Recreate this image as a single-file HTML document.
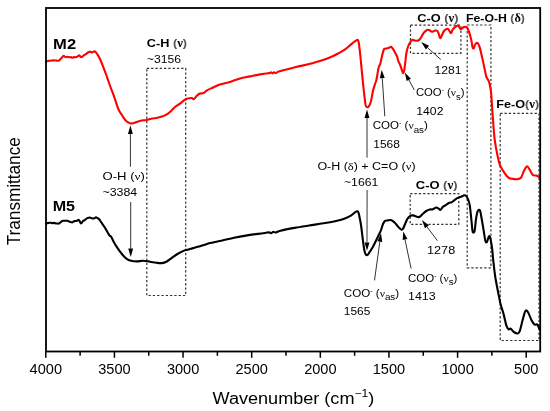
<!DOCTYPE html><html><head><meta charset="utf-8"><style>html,body{margin:0;padding:0;background:#fff;}svg{display:block;}text{font-family:"Liberation Sans", Arial, Helvetica, sans-serif;}</style></head><body>
<svg width="550" height="411" viewBox="0 0 550 411">
<rect width="550" height="411" fill="#fff"/>
<rect x="146.8" y="68.3" width="38.9" height="227.2" fill="none" stroke="#333" stroke-width="1.2" stroke-dasharray="2.3 2.0"/>
<rect x="410.5" y="25.1" width="50.4" height="28.2" fill="none" stroke="#333" stroke-width="1.2" stroke-dasharray="2.3 2.0"/>
<rect x="467.2" y="25.0" width="23.7" height="242.8" fill="none" stroke="#333" stroke-width="1.2" stroke-dasharray="2.3 2.0"/>
<rect x="410.2" y="193.6" width="48.6" height="30.7" fill="none" stroke="#333" stroke-width="1.2" stroke-dasharray="2.3 2.0"/>
<rect x="500.2" y="113.4" width="38.8" height="227.1" fill="none" stroke="#333" stroke-width="1.2" stroke-dasharray="2.3 2.0"/>
<path d="M46.00,61.70 C46.25,61.59 47.00,61.16 47.50,61.01 C48.00,60.86 48.51,60.85 49.00,60.80 C49.49,60.75 49.97,60.74 50.45,60.69 C50.93,60.64 51.33,60.55 51.90,60.50 C52.47,60.45 53.20,60.38 53.85,60.38 C54.50,60.38 55.23,60.45 55.80,60.50 C56.37,60.55 56.77,60.66 57.25,60.69 C57.73,60.73 58.21,60.92 58.70,60.70 C59.19,60.48 59.70,59.85 60.20,59.36 C60.70,58.88 61.13,58.39 61.70,57.80 C62.27,57.21 62.95,55.88 63.60,55.80 C64.25,55.72 65.02,57.13 65.60,57.30 C66.18,57.47 66.45,56.80 67.10,56.80 C67.75,56.80 68.85,57.24 69.50,57.30 C70.15,57.36 70.50,57.08 71.00,57.16 C71.50,57.24 72.01,57.81 72.50,57.80 C72.99,57.79 73.47,57.20 73.95,57.11 C74.43,57.03 74.83,57.38 75.40,57.30 C75.97,57.22 76.70,56.97 77.35,56.65 C78.00,56.34 78.64,55.29 79.30,55.40 C79.96,55.51 80.57,57.30 81.30,57.30 C82.03,57.30 82.88,55.97 83.70,55.40 C84.52,54.83 85.54,54.35 86.20,53.90 C86.86,53.45 87.17,53.02 87.65,52.68 C88.13,52.35 88.61,52.03 89.10,51.90 C89.59,51.77 90.10,51.83 90.60,51.91 C91.10,51.99 91.45,52.49 92.10,52.40 C92.75,52.31 93.85,51.40 94.50,51.40 C95.15,51.40 95.42,51.73 96.00,52.40 C96.58,53.07 97.35,54.33 98.00,55.40 C98.65,56.47 99.07,56.98 99.90,58.80 C100.73,60.62 101.93,63.60 103.00,66.30 C104.07,69.00 105.47,72.72 106.30,75.00 C107.13,77.28 107.30,78.00 108.00,80.00 C108.70,82.00 109.78,85.05 110.50,87.00 C111.22,88.95 111.72,90.13 112.30,91.70 C112.88,93.27 113.42,94.75 114.00,96.40 C114.58,98.05 115.22,99.85 115.80,101.60 C116.38,103.35 116.92,105.33 117.50,106.90 C118.08,108.47 118.62,109.73 119.30,111.00 C119.98,112.27 120.92,113.43 121.60,114.50 C122.28,115.57 122.72,116.42 123.40,117.40 C124.08,118.38 124.82,119.52 125.70,120.40 C126.58,121.28 127.82,122.18 128.70,122.70 C129.58,123.22 130.13,123.45 131.00,123.50 C131.87,123.55 132.43,123.43 133.90,123.00 C135.37,122.57 137.65,121.40 139.80,120.90 C141.95,120.40 145.10,120.32 146.80,120.00 C148.50,119.68 148.47,119.33 150.00,119.00 C151.53,118.67 154.00,118.40 156.00,118.00 C158.00,117.60 160.00,117.33 162.00,116.60 C164.00,115.87 166.50,114.53 168.00,113.60 C169.50,112.67 169.83,112.10 171.00,111.00 C172.17,109.90 173.50,108.23 175.00,107.00 C176.50,105.77 178.33,104.83 180.00,103.60 C181.67,102.37 183.67,100.47 185.00,99.60 C186.33,98.73 186.83,98.67 188.00,98.40 C189.17,98.13 191.07,97.87 192.00,98.00 C192.93,98.13 192.77,99.60 193.60,99.20 C194.43,98.80 195.93,96.53 197.00,95.60 C198.07,94.67 198.90,94.03 200.00,93.60 C201.10,93.17 202.43,93.53 203.60,93.00 C204.77,92.47 205.60,91.23 207.00,90.40 C208.40,89.57 209.83,88.97 212.00,88.00 C214.17,87.03 217.00,85.60 220.00,84.60 C223.00,83.60 226.67,83.03 230.00,82.00 C233.33,80.97 236.67,79.33 240.00,78.40 C243.33,77.47 246.67,77.07 250.00,76.40 C253.33,75.73 256.98,74.93 260.00,74.40 C263.02,73.87 266.52,73.38 268.10,73.20 C269.68,73.02 269.02,73.47 269.50,73.30 C269.98,73.13 270.50,72.18 271.00,72.20 C271.50,72.22 272.00,73.38 272.50,73.40 C273.00,73.42 273.42,72.37 274.00,72.30 C274.58,72.23 275.08,73.18 276.00,73.00 C276.92,72.82 276.18,72.18 279.50,71.20 C282.82,70.22 290.43,68.42 295.90,67.10 C301.37,65.78 306.85,64.80 312.30,63.30 C317.75,61.80 323.97,59.92 328.60,58.10 C333.23,56.28 337.28,53.88 340.10,52.40 C342.92,50.92 343.52,50.67 345.50,49.20 C347.48,47.73 350.25,45.03 352.00,43.60 C353.75,42.17 354.95,41.07 356.00,40.60 C357.05,40.13 357.65,38.98 358.30,40.80 C358.95,42.62 359.32,46.47 359.90,51.50 C360.48,56.53 361.20,64.92 361.80,71.00 C362.40,77.08 362.98,83.17 363.50,88.00 C364.02,92.83 364.55,97.17 364.90,100.00 C365.25,102.83 365.30,103.83 365.60,105.00 C365.90,106.17 366.27,106.67 366.70,107.00 C367.13,107.33 367.72,107.30 368.20,107.00 C368.68,106.70 369.10,106.33 369.60,105.20 C370.10,104.07 370.63,102.60 371.20,100.20 C371.77,97.80 372.37,93.50 373.00,90.80 C373.63,88.10 374.43,85.80 375.00,84.00 C375.57,82.20 375.80,82.70 376.40,80.00 C377.00,77.30 377.97,70.47 378.60,67.80 C379.23,65.13 379.67,65.82 380.20,64.00 C380.73,62.18 381.25,59.18 381.80,56.90 C382.35,54.62 383.03,51.67 383.50,50.30 C383.97,48.93 383.97,49.03 384.60,48.70 C385.23,48.37 386.48,48.48 387.30,48.30 C388.12,48.12 388.87,47.85 389.50,47.60 C390.13,47.35 390.55,46.62 391.10,46.80 C391.65,46.98 392.15,47.75 392.80,48.70 C393.45,49.65 394.27,51.13 395.00,52.50 C395.73,53.87 396.65,55.48 397.20,56.90 C397.75,58.32 397.77,59.55 398.30,61.00 C398.83,62.45 399.77,64.00 400.40,65.60 C401.03,67.20 401.63,69.32 402.10,70.60 C402.57,71.88 402.83,73.40 403.20,73.30 C403.57,73.20 403.93,72.00 404.30,70.00 C404.67,68.00 405.03,64.22 405.40,61.30 C405.77,58.38 406.05,54.97 406.50,52.50 C406.95,50.03 407.57,48.05 408.10,46.50 C408.63,44.95 409.15,44.20 409.70,43.20 C410.25,42.20 410.85,41.05 411.40,40.50 C411.95,39.95 412.37,39.87 413.00,39.90 C413.63,39.93 414.37,40.60 415.20,40.70 C416.03,40.80 417.27,40.72 418.00,40.50 C418.73,40.28 419.07,39.95 419.60,39.40 C420.13,38.85 420.47,38.35 421.20,37.20 C421.93,36.05 423.03,33.70 424.00,32.50 C424.97,31.30 426.17,30.42 427.00,30.00 C427.83,29.58 428.17,29.70 429.00,30.00 C429.83,30.30 431.17,31.63 432.00,31.80 C432.83,31.97 433.25,31.22 434.00,31.00 C434.75,30.78 435.83,30.33 436.50,30.50 C437.17,30.67 437.50,31.00 438.00,32.00 C438.50,33.00 439.08,35.50 439.50,36.50 C439.92,37.50 440.08,38.25 440.50,38.00 C440.92,37.75 441.42,36.17 442.00,35.00 C442.58,33.83 443.25,32.00 444.00,31.00 C444.75,30.00 445.75,29.30 446.50,29.00 C447.25,28.70 447.92,28.70 448.50,29.20 C449.08,29.70 449.55,31.37 450.00,32.00 C450.45,32.63 450.78,33.33 451.20,33.00 C451.62,32.67 451.95,30.92 452.50,30.00 C453.05,29.08 453.83,28.17 454.50,27.50 C455.17,26.83 455.92,26.33 456.50,26.00 C457.08,25.67 457.50,25.25 458.00,25.50 C458.50,25.75 459.00,26.88 459.50,27.50 C460.00,28.12 460.42,29.20 461.00,29.20 C461.58,29.20 462.33,27.90 463.00,27.50 C463.67,27.10 464.33,26.80 465.00,26.80 C465.67,26.80 466.42,26.88 467.00,27.50 C467.58,28.12 468.00,29.25 468.50,30.50 C469.00,31.75 469.50,33.25 470.00,35.00 C470.50,36.75 471.08,39.00 471.50,41.00 C471.92,43.00 472.13,45.77 472.50,47.00 C472.87,48.23 473.25,48.82 473.70,48.40 C474.15,47.98 474.67,45.43 475.20,44.50 C475.73,43.57 476.38,42.88 476.90,42.80 C477.42,42.72 477.78,43.07 478.30,44.00 C478.82,44.93 479.32,45.95 480.00,48.40 C480.68,50.85 481.60,55.13 482.40,58.70 C483.20,62.27 484.13,66.77 484.80,69.80 C485.47,72.83 485.75,75.05 486.40,76.90 C487.05,78.75 488.05,79.18 488.70,80.90 C489.35,82.62 489.87,84.85 490.30,87.20 C490.73,89.55 490.88,90.05 491.30,95.00 C491.72,99.95 492.25,109.60 492.80,116.90 C493.35,124.20 493.87,132.60 494.60,138.80 C495.33,145.00 496.30,149.72 497.20,154.10 C498.10,158.48 498.80,161.98 500.00,165.10 C501.20,168.22 502.93,170.68 504.40,172.80 C505.87,174.92 507.52,176.82 508.80,177.80 C510.08,178.78 510.82,178.45 512.10,178.70 C513.38,178.95 515.03,179.45 516.50,179.30 C517.97,179.15 519.63,179.25 520.90,177.80 C522.17,176.35 523.08,172.53 524.10,170.60 C525.12,168.67 526.08,166.38 527.00,166.20 C527.92,166.02 528.62,168.03 529.60,169.50 C530.58,170.97 531.80,173.98 532.90,175.00 C534.00,176.02 535.10,175.25 536.20,175.60 C537.30,175.95 538.95,176.85 539.50,177.10" fill="none" stroke="#ff0000" stroke-width="2.1" stroke-linejoin="round" stroke-linecap="round"/>
<path d="M46.00,223.50 C46.28,223.43 47.11,223.24 47.67,223.11 C48.22,222.98 48.78,222.77 49.33,222.72 C49.89,222.67 50.44,222.72 51.00,222.80 C51.56,222.88 52.11,223.16 52.67,223.17 C53.22,223.18 53.78,222.83 54.33,222.88 C54.89,222.94 55.47,223.39 56.00,223.50 C56.53,223.61 57.00,223.53 57.50,223.53 C58.00,223.53 58.53,223.68 59.00,223.50 C59.47,223.32 59.89,222.85 60.33,222.48 C60.78,222.11 61.22,221.58 61.67,221.30 C62.11,221.02 62.53,220.88 63.00,220.80 C63.47,220.72 64.00,220.81 64.50,220.81 C65.00,220.81 65.50,220.81 66.00,220.80 C66.50,220.79 67.00,220.62 67.50,220.73 C68.00,220.85 68.50,221.30 69.00,221.50 C69.50,221.70 70.00,221.77 70.50,221.94 C71.00,222.11 71.53,222.55 72.00,222.50 C72.47,222.45 72.89,221.84 73.33,221.61 C73.78,221.38 74.22,221.23 74.67,221.13 C75.11,221.03 75.53,221.12 76.00,221.00 C76.47,220.88 77.00,220.60 77.50,220.43 C78.00,220.27 78.42,219.49 79.00,220.00 C79.58,220.51 80.33,223.33 81.00,223.50 C81.67,223.67 82.42,221.53 83.00,221.00 C83.58,220.47 84.00,220.63 84.50,220.29 C85.00,219.96 85.53,219.36 86.00,219.00 C86.47,218.64 86.89,218.37 87.33,218.16 C87.78,217.95 88.22,217.86 88.67,217.75 C89.11,217.64 89.53,217.44 90.00,217.50 C90.47,217.56 91.00,217.95 91.50,218.11 C92.00,218.28 92.50,218.48 93.00,218.50 C93.50,218.52 94.00,218.47 94.50,218.25 C95.00,218.04 95.50,217.21 96.00,217.20 C96.50,217.19 97.00,217.87 97.50,218.17 C98.00,218.47 98.52,218.53 99.00,219.00 C99.48,219.47 99.43,219.58 100.40,221.00 C101.37,222.42 103.35,225.20 104.80,227.50 C106.25,229.80 108.02,233.22 109.10,234.80 C110.18,236.38 110.57,235.90 111.30,237.00 C112.03,238.10 112.40,239.45 113.50,241.40 C114.60,243.35 116.43,246.52 117.90,248.70 C119.37,250.88 120.83,252.80 122.30,254.50 C123.77,256.20 125.25,257.85 126.70,258.90 C128.15,259.95 129.30,260.38 131.00,260.80 C132.70,261.22 134.95,261.40 136.90,261.40 C138.85,261.40 140.75,260.80 142.70,260.80 C144.65,260.80 147.38,261.25 148.60,261.40 C149.82,261.55 148.67,261.47 150.00,261.70 C151.33,261.93 154.60,262.57 156.60,262.80 C158.60,263.03 160.37,263.28 162.00,263.10 C163.63,262.92 164.75,262.57 166.40,261.70 C168.05,260.83 170.07,259.18 171.90,257.90 C173.73,256.62 175.57,255.13 177.40,254.00 C179.23,252.87 181.45,251.77 182.90,251.10 C184.35,250.43 184.28,250.52 186.10,250.00 C187.92,249.48 191.60,248.60 193.80,248.00 C196.00,247.40 197.47,246.95 199.30,246.40 C201.13,245.85 203.02,245.25 204.80,244.70 C206.58,244.15 207.55,243.72 210.00,243.10 C212.45,242.48 215.48,241.90 219.50,241.00 C223.52,240.10 229.25,238.68 234.10,237.70 C238.95,236.72 243.75,235.85 248.60,235.10 C253.45,234.35 259.80,233.68 263.20,233.20 C266.60,232.72 267.87,232.25 269.00,232.20 C270.13,232.15 269.63,232.73 270.00,232.90 C270.37,233.07 270.82,233.28 271.20,233.20 C271.58,233.12 271.93,232.65 272.30,232.40 C272.67,232.15 272.87,231.68 273.40,231.70 C273.93,231.72 274.30,232.67 275.50,232.50 C276.70,232.33 277.43,231.47 280.60,230.70 C283.77,229.93 289.75,228.77 294.50,227.90 C299.25,227.03 304.25,226.27 309.10,225.50 C313.95,224.73 318.75,224.15 323.60,223.30 C328.45,222.45 334.55,221.25 338.20,220.40 C341.85,219.55 343.32,219.05 345.50,218.20 C347.68,217.35 349.62,216.35 351.30,215.30 C352.98,214.25 354.52,212.55 355.60,211.90 C356.68,211.25 357.23,210.98 357.80,211.40 C358.37,211.82 358.47,212.12 359.00,214.40 C359.53,216.68 360.33,220.65 361.00,225.10 C361.67,229.55 362.43,236.87 363.00,241.10 C363.57,245.33 363.95,248.30 364.40,250.50 C364.85,252.70 365.15,253.58 365.70,254.30 C366.25,255.02 367.03,255.20 367.70,254.80 C368.37,254.40 368.92,253.07 369.70,251.90 C370.48,250.73 371.50,249.37 372.40,247.80 C373.30,246.23 374.10,244.50 375.10,242.50 C376.10,240.50 377.40,237.92 378.40,235.80 C379.40,233.68 380.32,231.82 381.10,229.80 C381.88,227.78 382.43,225.20 383.10,223.70 C383.77,222.20 384.32,221.35 385.10,220.80 C385.88,220.25 386.90,220.53 387.80,220.40 C388.70,220.27 389.72,219.93 390.50,220.00 C391.28,220.07 391.72,220.28 392.50,220.80 C393.28,221.32 394.32,222.17 395.20,223.10 C396.08,224.03 397.03,225.52 397.80,226.40 C398.57,227.28 399.12,227.83 399.80,228.40 C400.48,228.97 401.33,229.80 401.90,229.80 C402.47,229.80 402.65,229.42 403.20,228.40 C403.75,227.38 404.50,225.28 405.20,223.70 C405.90,222.12 406.55,220.22 407.40,218.90 C408.25,217.58 409.32,216.38 410.30,215.80 C411.28,215.22 412.32,215.30 413.30,215.40 C414.28,215.50 415.22,216.13 416.20,216.40 C417.18,216.67 418.12,217.40 419.20,217.00 C420.28,216.60 421.52,215.00 422.70,214.00 C423.88,213.00 425.12,211.75 426.30,211.00 C427.48,210.25 428.72,209.78 429.80,209.50 C430.88,209.22 431.72,209.63 432.80,209.30 C433.88,208.97 435.32,207.60 436.30,207.50 C437.28,207.40 438.00,208.30 438.70,208.70 C439.40,209.10 439.82,210.20 440.50,209.90 C441.18,209.60 441.92,207.70 442.80,206.90 C443.68,206.10 444.72,205.78 445.80,205.10 C446.88,204.42 448.32,203.28 449.30,202.80 C450.28,202.32 450.90,202.60 451.70,202.20 C452.50,201.80 453.32,201.00 454.10,200.40 C454.88,199.80 455.62,199.08 456.40,198.60 C457.18,198.12 457.92,197.85 458.80,197.50 C459.68,197.15 460.82,196.87 461.70,196.50 C462.58,196.13 463.40,195.43 464.10,195.30 C464.80,195.17 465.28,195.12 465.90,195.70 C466.52,196.28 467.15,197.15 467.80,198.80 C468.45,200.45 469.15,201.57 469.80,205.60 C470.45,209.63 471.22,218.63 471.70,223.00 C472.18,227.37 472.22,230.48 472.70,231.80 C473.18,233.12 474.05,233.00 474.60,230.90 C475.15,228.80 475.50,222.45 476.00,219.20 C476.50,215.95 476.95,212.87 477.60,211.40 C478.25,209.93 479.27,209.43 479.90,210.40 C480.53,211.37 480.82,214.12 481.40,217.20 C481.98,220.28 482.75,225.02 483.40,228.90 C484.05,232.78 484.72,238.30 485.30,240.50 C485.88,242.70 486.32,242.73 486.90,242.10 C487.48,241.47 488.25,237.43 488.80,236.70 C489.35,235.97 489.65,235.75 490.20,237.70 C490.75,239.65 491.60,244.68 492.10,248.40 C492.60,252.12 492.68,255.32 493.20,260.00 C493.72,264.68 494.42,271.33 495.20,276.50 C495.98,281.67 497.03,286.52 497.90,291.00 C498.77,295.48 499.47,299.60 500.40,303.40 C501.33,307.20 502.47,310.00 503.50,313.80 C504.53,317.60 505.73,323.62 506.60,326.20 C507.47,328.78 508.02,328.88 508.70,329.30 C509.38,329.72 509.85,328.25 510.70,328.70 C511.55,329.15 512.58,331.22 513.80,332.00 C515.02,332.78 516.97,333.68 518.00,333.40 C519.03,333.12 519.13,332.88 520.00,330.30 C520.87,327.72 522.27,321.17 523.20,317.90 C524.13,314.63 524.75,311.57 525.60,310.70 C526.45,309.83 527.33,311.15 528.30,312.70 C529.27,314.25 530.37,318.03 531.40,320.00 C532.43,321.97 533.53,323.75 534.50,324.50 C535.47,325.25 536.50,324.05 537.20,324.50 C537.90,324.95 538.28,326.40 538.70,327.20 C539.12,328.00 539.53,328.95 539.70,329.30" fill="none" stroke="#000" stroke-width="2.1" stroke-linejoin="round" stroke-linecap="round"/>
<line x1="130.40" y1="166.70" x2="130.40" y2="133.90" stroke="#333" stroke-width="1"/>
<polygon points="130.40,125.50 132.85,133.90 127.95,133.90" fill="#000"/>
<line x1="130.70" y1="202.00" x2="130.70" y2="248.60" stroke="#333" stroke-width="1"/>
<polygon points="130.70,257.00 128.25,248.60 133.15,248.60" fill="#000"/>
<line x1="367.00" y1="157.70" x2="367.00" y2="117.90" stroke="#333" stroke-width="1"/>
<polygon points="367.00,109.50 369.45,117.90 364.55,117.90" fill="#000"/>
<line x1="367.10" y1="190.00" x2="367.01" y2="242.40" stroke="#333" stroke-width="1"/>
<polygon points="367.00,250.80 364.56,242.40 369.46,242.40" fill="#000"/>
<line x1="384.80" y1="116.30" x2="382.26" y2="78.18" stroke="#333" stroke-width="1"/>
<polygon points="381.70,69.80 384.70,78.02 379.81,78.34" fill="#000"/>
<line x1="414.30" y1="90.00" x2="408.79" y2="79.79" stroke="#333" stroke-width="1"/>
<polygon points="404.80,72.40 410.95,78.63 406.63,80.96" fill="#000"/>
<line x1="440.80" y1="59.50" x2="427.48" y2="47.68" stroke="#333" stroke-width="1"/>
<polygon points="421.20,42.10 429.11,45.84 425.86,49.51" fill="#000"/>
<line x1="374.50" y1="280.40" x2="379.85" y2="241.62" stroke="#333" stroke-width="1"/>
<polygon points="381.00,233.30 382.28,241.96 377.42,241.29" fill="#000"/>
<line x1="411.10" y1="268.60" x2="405.02" y2="239.62" stroke="#333" stroke-width="1"/>
<polygon points="403.30,231.40 407.42,239.12 402.63,240.12" fill="#000"/>
<line x1="437.40" y1="240.70" x2="426.93" y2="226.72" stroke="#333" stroke-width="1"/>
<polygon points="421.90,220.00 428.90,225.26 424.97,228.19" fill="#000"/>
<rect x="46.0" y="8.0" width="494.2" height="343.5" fill="none" stroke="#000" stroke-width="1.8"/>
<line x1="45.80" y1="351.5" x2="45.80" y2="357.80" stroke="#000" stroke-width="1.5"/>
<line x1="80.11" y1="351.5" x2="80.11" y2="355.80" stroke="#000" stroke-width="1.5"/>
<line x1="114.43" y1="351.5" x2="114.43" y2="357.80" stroke="#000" stroke-width="1.5"/>
<line x1="148.75" y1="351.5" x2="148.75" y2="355.80" stroke="#000" stroke-width="1.5"/>
<line x1="183.06" y1="351.5" x2="183.06" y2="357.80" stroke="#000" stroke-width="1.5"/>
<line x1="217.38" y1="351.5" x2="217.38" y2="355.80" stroke="#000" stroke-width="1.5"/>
<line x1="251.69" y1="351.5" x2="251.69" y2="357.80" stroke="#000" stroke-width="1.5"/>
<line x1="286.00" y1="351.5" x2="286.00" y2="355.80" stroke="#000" stroke-width="1.5"/>
<line x1="320.32" y1="351.5" x2="320.32" y2="357.80" stroke="#000" stroke-width="1.5"/>
<line x1="354.63" y1="351.5" x2="354.63" y2="355.80" stroke="#000" stroke-width="1.5"/>
<line x1="388.95" y1="351.5" x2="388.95" y2="357.80" stroke="#000" stroke-width="1.5"/>
<line x1="423.26" y1="351.5" x2="423.26" y2="355.80" stroke="#000" stroke-width="1.5"/>
<line x1="457.58" y1="351.5" x2="457.58" y2="357.80" stroke="#000" stroke-width="1.5"/>
<line x1="491.89" y1="351.5" x2="491.89" y2="355.80" stroke="#000" stroke-width="1.5"/>
<line x1="526.21" y1="351.5" x2="526.21" y2="357.80" stroke="#000" stroke-width="1.5"/>
<text id="tk0" transform="translate(45.80,373.5) scale(1.040,1)" text-anchor="middle" font-size="14">4000</text>
<text id="tk1" transform="translate(114.43,373.5) scale(1.040,1)" text-anchor="middle" font-size="14">3500</text>
<text id="tk2" transform="translate(183.06,373.5) scale(1.040,1)" text-anchor="middle" font-size="14">3000</text>
<text id="tk3" transform="translate(251.69,373.5) scale(1.040,1)" text-anchor="middle" font-size="14">2500</text>
<text id="tk4" transform="translate(320.32,373.5) scale(1.040,1)" text-anchor="middle" font-size="14">2000</text>
<text id="tk5" transform="translate(388.95,373.5) scale(1.040,1)" text-anchor="middle" font-size="14">1500</text>
<text id="tk6" transform="translate(457.58,373.5) scale(1.040,1)" text-anchor="middle" font-size="14">1000</text>
<text id="tk7" transform="translate(526.21,373.5) scale(1.040,1)" text-anchor="middle" font-size="14">500</text>
<text id="trans" transform="translate(20.4,191.25) scale(1.075,1) rotate(-90)" text-anchor="middle" font-size="17.15">Transmittance</text>
<text id="m2" transform="translate(53.10,48.80) scale(1.151,1)" font-size="14.4" font-weight="bold" fill="#000">M2</text>
<text id="m5" transform="translate(52.70,211.40) scale(1.120,1)" font-size="14.4" font-weight="bold" fill="#000">M5</text>
<text id="ch" transform="translate(146.80,47.00) scale(1.077,1)" font-size="11.8" font-weight="bold" fill="#000">C-H <tspan fill="#555">(</tspan><tspan font-family="Liberation Serif, serif">ν</tspan><tspan fill="#555">)</tspan></text>
<text id="co1" transform="translate(417.20,21.50) scale(1.084,1)" font-size="11.8" font-weight="bold" fill="#000">C-O <tspan fill="#555">(</tspan><tspan font-family="Liberation Serif, serif">ν</tspan><tspan fill="#555">)</tspan></text>
<text id="feoh" transform="translate(466.00,21.50) scale(1.041,1)" font-size="11.8" font-weight="bold" fill="#000">Fe-O-H <tspan fill="#555">(</tspan><tspan font-family="Liberation Serif, serif">δ</tspan><tspan fill="#555">)</tspan></text>
<text id="co2" transform="translate(415.80,189.20) scale(1.098,1)" font-size="11.8" font-weight="bold" fill="#000">C-O <tspan fill="#555">(</tspan><tspan font-family="Liberation Serif, serif">ν</tspan><tspan fill="#555">)</tspan></text>
<text id="feo" transform="translate(496.20,107.60) scale(1.075,1)" font-size="11.8" font-weight="bold" fill="#000">Fe-O<tspan fill="#555">(</tspan><tspan font-family="Liberation Serif, serif">ν</tspan><tspan fill="#555">)</tspan></text>
<text id="t3156" transform="translate(146.80,62.80) scale(1.077,1)" font-size="11.3" fill="#000">~3156</text>
<text id="oh" transform="translate(102.50,179.80) scale(1.160,1)" font-size="11.3" fill="#000">O-H (<tspan font-family="Liberation Serif, serif">ν</tspan>)</text>
<text id="t3384" transform="translate(102.50,195.50) scale(1.096,1)" font-size="11.3" fill="#000">~3384</text>
<text id="ohco" transform="translate(317.40,170.00) scale(1.105,1)" font-size="11.3" fill="#000">O-H (<tspan font-family="Liberation Serif, serif">δ</tspan>) + C=O (<tspan font-family="Liberation Serif, serif">ν</tspan>)</text>
<text id="t1661" transform="translate(344.00,185.60) scale(1.080,1)" font-size="11.3" fill="#000">~1661</text>
<text id="cooas1" transform="translate(372.80,129.20) scale(1.021,1)" font-size="11.3" fill="#000">COO<tspan dy="-4.0" font-size="6.8">-</tspan><tspan dy="4.0"> (<tspan font-family="Liberation Serif, serif">ν</tspan></tspan><tspan dy="3.4" font-size="9.6">as</tspan><tspan dy="-3.4">)</tspan></text>
<text id="t1568" transform="translate(373.30,147.90) scale(1.060,1)" font-size="11.3" fill="#000">1568</text>
<text id="coos1" transform="translate(415.90,96.10) scale(1.000,1)" font-size="11.3" fill="#000">COO<tspan dy="-4.0" font-size="6.8">-</tspan><tspan dy="4.0"> (<tspan font-family="Liberation Serif, serif">ν</tspan></tspan><tspan dy="3.4" font-size="9.6">s</tspan><tspan dy="-3.4">)</tspan></text>
<text id="t1402" transform="translate(416.30,114.80) scale(1.079,1)" font-size="11.3" fill="#000">1402</text>
<text id="t1281" transform="translate(434.50,74.00) scale(1.074,1)" font-size="11.3" fill="#000">1281</text>
<text id="t1278" transform="translate(427.00,253.50) scale(1.121,1)" font-size="11.3" fill="#000">1278</text>
<text id="cooas2" transform="translate(343.80,296.90) scale(1.028,1)" font-size="11.3" fill="#000">COO<tspan dy="-4.0" font-size="6.8">-</tspan><tspan dy="4.0"> (<tspan font-family="Liberation Serif, serif">ν</tspan></tspan><tspan dy="3.4" font-size="9.6">as</tspan><tspan dy="-3.4">)</tspan></text>
<text id="t1565" transform="translate(343.80,315.00) scale(1.057,1)" font-size="11.3" fill="#000">1565</text>
<text id="coos2" transform="translate(408.00,281.60) scale(1.016,1)" font-size="11.3" fill="#000">COO<tspan dy="-4.0" font-size="6.8">-</tspan><tspan dy="4.0"> (<tspan font-family="Liberation Serif, serif">ν</tspan></tspan><tspan dy="3.4" font-size="9.6">s</tspan><tspan dy="-3.4">)</tspan></text>
<text id="t1413" transform="translate(408.00,299.60) scale(1.099,1)" font-size="11.3" fill="#000">1413</text>
<text id="xlab" transform="translate(212.50,403.90) scale(1.160,1)" font-size="15.6" fill="#000">Wavenumber (cm<tspan dy="-7" font-size="10.5">−1</tspan><tspan dy="7">)</tspan></text>
</svg></body></html>
